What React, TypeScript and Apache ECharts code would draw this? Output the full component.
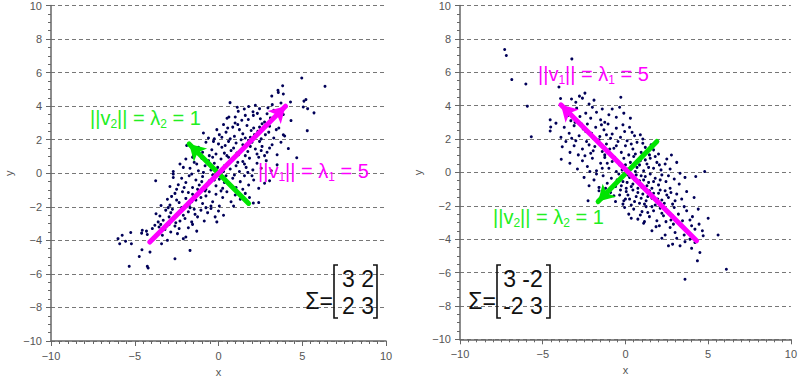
import React, { useEffect, useRef } from 'react';
import * as echarts from 'echarts';

const FONT = '"Liberation Sans", Arial, Helvetica, sans-serif';

// axis settings
const AXIS_MIN = -10;
const AXIS_MAX = 10;
const X_INTERVAL = 5;
const Y_INTERVAL = 2;

// left panel: Sigma = [[3,2],[2,3]]
const LEFT_POINTS: [number, number][] = [
  [4.97,5.68],[6.36,5.18],[3.83,5.22],[3.55,4.95],[3.57,4.82],[3.87,4.72],[3.18,4.6],[5.22,4.39],[5.1,4.3],[0.69,4.21],
  [2.2,4.05],[3.21,4.09],[3.73,4.19],[1.8,3.98],[4.3,4.25],[5.06,3.95],[5.32,3.85],[5.7,3.6],[1.18,3.69],[1.12,3.93],
  [1.54,3.83],[2.06,3.67],[2.08,3.45],[2.32,3.57],[2.9,3.55],[3.3,3.75],[3.87,3.5],[0.51,3.28],[0.99,3.0],[1.39,3.16],
  [1.78,3.2],[2.5,3.25],[2.75,3.05],[4.33,3.14],[3.1,3.3],[0.62,3.35],[1.6,3.45],[2.45,3.85],[1.0,3.35],[2.95,3.9],
  [5.3,2.54],[3.87,2.29],[3.95,2.22],[0.3,2.9],[0.85,2.75],[1.25,2.6],[1.7,2.85],[2.1,2.7],[2.6,2.95],[3.05,2.8],
  [3.45,2.6],[0.05,2.3],[0.45,2.45],[0.95,2.2],[1.45,2.35],[1.9,2.15],[2.35,2.5],[2.8,2.3],[3.3,2.1],[-0.6,2.1],
  [-0.25,2.05],[0.2,2.15],[0.7,2.05],[1.15,2.9],[1.6,2.1],[2.15,2.3],[2.55,2.05],[3.0,2.45],[-0.9,2.4],[1.35,2.0],
  [0.55,2.7],[1.95,2.55],[2.45,2.75],[3.6,2.7],[-0.1,2.6],
  [4.17,1.47],[3.73,1.85],[-1.9,1.65],[-1.2,1.55],[-0.75,1.85],[-0.4,1.4],[0.0,1.75],[0.35,1.2],[0.6,1.9],[0.9,1.5],
  [1.2,1.1],[1.45,1.7],[1.75,1.3],[2.0,1.85],[2.3,1.15],[2.6,1.6],[2.9,1.25],[3.2,1.7],[3.5,1.1],[-1.5,1.05],
  [-0.95,1.25],[-0.55,1.05],[-0.15,1.15],[0.2,1.55],[0.5,1.05],[0.75,1.35],[1.05,1.8],[1.35,1.35],[1.6,1.05],[1.9,1.6],
  [2.2,1.45],[2.45,1.9],[2.75,1.05],[3.05,1.5],[-0.3,1.9],[0.4,1.65],[1.1,1.2],[1.8,1.95],[2.55,1.35],[4.67,0.92],
  [-2.7,0.1],[-2.3,0.55],[-1.95,0.85],[-1.7,0.3],[-1.45,0.65],[-1.2,0.15],[-1.0,0.9],[-0.8,0.45],[-0.6,0.75],[-0.45,0.2],
  [-0.25,0.6],[-0.05,0.35],[0.15,0.85],[0.3,0.1],[0.5,0.55],[0.7,0.25],[0.85,0.8],[1.05,0.45],[1.25,0.1],[1.45,0.7],
  [1.65,0.35],[1.85,0.9],[2.05,0.2],[2.3,0.6],[2.55,0.3],[2.85,0.75],[3.15,0.15],[3.5,0.5],[-2.1,0.35],[-1.55,0.95],
  [-0.9,0.05],[-0.35,0.95],[0.05,0.05],[0.6,0.95],[1.15,0.65],[1.75,0.05],[2.4,0.95],[-1.3,0.55],[0.35,0.45],[1.55,0.55],
  [-3.75,-0.45],[-2.7,-0.05],[-2.7,-0.25],[-2.4,-0.69],[-2.9,-0.79],[-2.2,-0.3],[-1.95,-0.55],[-1.75,-0.15],[-1.55,-0.85],[-1.35,-0.4],
  [-1.15,-0.7],[-0.95,-0.2],[-0.75,-0.95],[-0.55,-0.45],[-0.35,-0.1],[-0.15,-0.75],[0.05,-0.35],[0.25,-0.9],[0.45,-0.15],[0.65,-0.6],
  [0.85,-0.3],[1.05,-0.85],[1.3,-0.5],[1.55,-0.15],[1.8,-0.7],[2.1,-0.4],[2.4,-0.9],[2.75,-0.6],[-2.5,-0.95],[-2.05,-0.85],
  [-1.6,-0.05],[-1.25,-0.95],[-0.65,-0.65],[-0.25,-0.4],[0.35,-0.55],[0.95,-0.1],[1.45,-0.95],[2.0,-0.15],[3.05,-0.45],[-1.0,-0.5],
  [-2.8,-1.38],[-3.43,-1.92],[-3.05,-1.55],[-2.6,-1.2],[-2.35,-1.75],[-2.15,-1.1],[-1.95,-1.5],[-1.75,-1.9],[-1.55,-1.25],[-1.35,-1.6],
  [-1.15,-1.05],[-0.95,-1.8],[-0.75,-1.35],[-0.55,-1.1],[-0.35,-1.7],[-0.15,-1.25],[0.05,-1.95],[0.25,-1.45],[0.5,-1.1],[0.75,-1.7],
  [1.0,-1.3],[1.3,-1.55],[1.6,-1.2],[2.08,-1.78],[2.4,-1.75],[-2.9,-1.9],[-2.5,-1.6],[-1.8,-1.15],[-1.05,-1.45],[-0.45,-1.95],
  [0.15,-1.05],[0.9,-1.95],[1.85,-1.45],[-1.6,-1.7],[-0.8,-1.05],
  [-3.73,-2.41],[-3.5,-2.55],[-3.3,-2.8],[-3.15,-2.2],[-2.95,-2.6],[-2.75,-2.15],[-2.55,-2.95],[-2.4,-2.4],[-2.2,-2.05],[-2.0,-2.7],
  [-1.8,-2.3],[-1.6,-2.9],[-1.45,-2.15],[-1.25,-2.6],[-1.05,-2.2],[-0.85,-2.85],[-0.65,-2.35],[-0.45,-2.1],[-0.2,-2.6],[0.0,-2.25],
  [0.3,-2.5],[-3.6,-2.9],[-2.85,-2.35],[-2.1,-2.5],[-1.4,-2.45],[-0.75,-2.05],[-0.1,-2.9],[-2.3,-2.85],[-1.7,-2.05],[-3.0,-2.05],
  [-4.59,-3.57],[-4.55,-3.4],[-4.3,-3.45],[-4.25,-3.65],[-3.95,-3.3],[-3.8,-3.1],[-3.55,-3.2],[-3.45,-3.05],[-3.2,-3.35],[-3.05,-4.0],
  [-2.85,-3.5],[-2.6,-3.15],[-2.35,-3.3],[-2.1,-3.9],[-1.95,-3.8],[-1.8,-3.25],[-1.55,-3.05],[-1.3,-3.45],[-5.24,-3.53],[-5.75,-3.7],
  [-6.0,-3.9],[-3.9,-3.85],[-3.35,-3.7],[-2.95,-3.05],[-2.45,-3.6],
  [-5.9,-4.2],[-5.55,-4.05],[-5.2,-4.2],[-4.57,-4.56],[-4.73,-4.96],[-4.09,-4.7],[-5.33,-5.55],[-4.25,-5.55],[-4.2,-5.65],[-2.6,-5.1],
  [-1.7,-4.6],[-3.4,-4.2],
];

// right panel: Sigma = [[3,-2],[-2,3]]
const RIGHT_POINTS: [number, number][] = [
  [-7.3,7.36],[-7.2,7.0],[-6.87,5.56],[-6.02,5.3],[-3.24,6.8],[-4.02,5.12],[-5.93,3.97],[-3.92,4.43],[-2.78,4.57],[-3.26,4.4],
  [-1.9,4.33],[-0.28,4.5],[-2.45,4.75],[-2.6,4.45],[-3.0,4.2],[-2.2,4.1],[-1.4,3.8],[-2.95,3.85],[-3.5,3.4],[-3.3,3.1],
  [-2.75,3.35],[-2.4,3.55],[-2.1,3.25],[-1.75,3.6],[-1.5,3.15],[-1.0,3.45],[-0.55,3.3],[-0.35,3.9],[-0.1,3.55],[-3.05,3.0],
  [-1.25,3.0],[-2.0,3.9],[-0.8,3.8],[0.3,3.25],[-4.55,3.15],
  [-5.69,2.14],[-4.52,2.72],[-4.55,2.48],[-4.2,2.95],[-3.7,2.7],[-3.4,2.35],[-3.1,2.8],[-2.8,2.2],[-2.55,2.6],[-2.3,2.9],
  [-2.05,2.35],[-1.8,2.7],[-1.55,2.15],[-1.3,2.55],[-1.05,2.9],[-0.8,2.3],[-0.55,2.65],[-0.3,2.1],[-0.05,2.45],[0.25,2.7],
  [0.55,2.2],[0.9,2.25],[-3.9,2.1],[-3.25,2.05],[-2.65,2.9],[-1.95,2.05],[-1.45,2.85],[-0.9,2.05],[-0.15,2.85],[0.4,2.4],
  [1.05,2.0],[-2.4,2.45],[-1.15,2.25],
  [-3.82,1.54],[-3.6,1.85],[-3.35,1.2],[-3.1,1.6],[-2.85,1.05],[-2.6,1.4],[-2.35,1.85],[-2.1,1.15],[-1.85,1.55],[-1.6,1.95],
  [-1.4,1.25],[-1.15,1.7],[-0.9,1.05],[-0.7,1.45],[-0.45,1.85],[-0.25,1.2],[0.0,1.6],[0.2,1.05],[0.45,1.4],[0.7,1.8],
  [0.95,1.2],[1.2,1.5],[1.45,1.05],[1.7,1.35],[2.0,1.1],[2.78,1.04],[-3.0,1.9],[-2.45,1.0],[-1.95,1.3],[-1.25,1.05],
  [-0.55,1.6],[0.1,1.9],[0.6,1.1],[1.05,1.75],[-2.2,1.65],[-0.95,1.4],[0.35,1.7],[1.55,1.65],
  [-3.88,0.79],[-3.36,0.55],[-2.9,0.2],[-2.6,0.7],[-2.3,0.35],[-2.0,0.85],[-1.75,0.1],[-1.5,0.55],[-1.25,0.9],[-1.0,0.25],
  [-0.8,0.65],[-0.55,0.05],[-0.35,0.45],[-0.1,0.85],[0.1,0.2],[0.3,0.6],[0.5,0.95],[0.7,0.3],[0.9,0.7],[1.1,0.1],
  [1.3,0.5],[1.5,0.85],[1.7,0.25],[1.9,0.6],[2.15,0.15],[2.4,0.5],[2.7,0.2],[3.1,0.6],[4.79,0.05],[-2.15,0.05],
  [-1.4,0.25],[-0.65,0.9],[0.0,0.45],[0.6,0.05],[1.2,0.75],[1.8,0.95],[2.5,0.8],[-0.2,0.15],[0.85,0.45],[1.4,0.3],
  [2.05,0.45],[-1.1,0.55],
  [4.25,-0.25],[-2.5,-0.3],[-2.2,-0.8],[-1.9,-0.45],[-1.6,-0.9],[-1.35,-0.2],[-1.1,-0.65],[-0.85,-0.35],[-0.6,-0.85],[-0.4,-0.1],
  [-0.15,-0.55],[0.05,-0.95],[0.25,-0.3],[0.45,-0.7],[0.65,-0.15],[0.85,-0.5],[1.0,-0.9],[1.2,-0.25],[1.4,-0.6],[1.6,-0.95],
  [1.8,-0.35],[2.0,-0.75],[2.2,-0.15],[2.45,-0.55],[2.7,-0.95],[2.95,-0.4],[3.25,-0.7],[3.6,-0.3],[3.3,-0.05],[-1.75,-0.1],
  [-1.2,-0.95],[-0.5,-0.45],[0.15,-0.15],[0.55,-0.45],[0.95,-0.2],[1.3,-0.8],[1.7,-0.55],[2.1,-0.45],[2.6,-0.2],[-0.25,-0.8],
  [0.35,-0.85],[0.75,-0.95],[1.5,-0.1],[1.1,-0.45],[0.1,-0.6],
  [-2.26,-1.7],[-1.6,-1.1],[-1.2,-1.5],[-0.9,-1.2],[-0.6,-1.75],[-0.35,-1.35],[-0.15,-1.9],[0.05,-1.15],[0.25,-1.6],[0.45,-1.05],
  [0.65,-1.45],[0.85,-1.85],[1.05,-1.3],[1.25,-1.7],[1.45,-1.1],[1.6,-1.55],[1.8,-1.95],[2.0,-1.25],[2.2,-1.65],[2.4,-1.1],
  [2.6,-1.5],[2.85,-1.9],[3.1,-1.3],[3.4,-1.6],[3.7,-1.15],[4.15,-1.5],[0.0,-1.6],[0.35,-1.95],[0.75,-1.2],[1.15,-1.9],
  [1.55,-1.35],[1.95,-1.6],[2.35,-1.85],[2.75,-1.2],[-0.3,-1.05],[-0.7,-1.4],[1.35,-1.45],[2.1,-1.05],[0.55,-1.75],[0.95,-1.55],
  [3.0,-1.7],[0.15,-1.35],[1.7,-1.25],[-0.1,-1.7],[2.5,-1.35],
  [-0.05,-2.1],[0.2,-2.5],[0.5,-2.2],[0.75,-2.8],[1.0,-2.35],[1.25,-2.05],[1.45,-2.65],[1.7,-2.3],[1.9,-2.9],[2.1,-2.15],
  [2.3,-2.6],[2.55,-2.35],[2.75,-2.85],[2.95,-2.1],[3.2,-2.5],[3.45,-2.9],[3.7,-2.3],[4.05,-2.65],[4.4,-2.2],[5.0,-2.75],
  [0.35,-2.75],[1.15,-2.95],[1.6,-2.05],[2.2,-2.45],[2.85,-2.6],[3.55,-2.05],[0.9,-2.55],[2.45,-2.95],[3.9,-2.85],[1.35,-2.4],
  [1.1,-3.05],[1.6,-3.5],[2.05,-3.2],[2.4,-3.75],[2.7,-3.3],[3.0,-3.6],[3.3,-3.15],[3.55,-3.75],[3.8,-3.6],[3.9,-4.0],
  [4.2,-3.4],[4.65,-3.5],[4.7,-3.8],[5.6,-3.75],[2.2,-3.95],[3.1,-3.95],[4.45,-3.1],[1.85,-3.25],[2.9,-3.1],[4.0,-3.2],
  [2.6,-4.4],[3.3,-4.4],[2.85,-4.3],[4.2,-4.2],[4.35,-5.3],[4.5,-4.8],[3.6,-6.4],[6.1,-5.8],[3.6,-4.15],[4.0,-4.55],
];

// eigenvector arrows: [start, tip]
const LEFT_V1: [number, number][] = [[-4.1, -4.1], [4.0, 4.0]];
const LEFT_V2: [number, number][] = [[1.8, -1.8], [-1.75, 1.75]];
const RIGHT_V1: [number, number][] = [[4.3, -4.1], [-3.9, 4.05]];
const RIGHT_V2: [number, number][] = [[1.9, 1.85], [-1.65, -1.75]];

const MAGENTA = '#ff00ff';
const GREEN = '#00e400';
const GREEN_TEXT = '#22ee22';
const DOT = '#000058';
const AXIS_COLOR = '#666';
const LABEL_COLOR = '#555';

const fmt = (v: number) => String(v).replace('-', '\u2212');

function xAxisCfg(gridIndex: number) {
  return {
    type: 'value', gridIndex, min: AXIS_MIN, max: AXIS_MAX, interval: X_INTERVAL,
    name: 'x', nameLocation: 'middle', nameGap: 25,
    nameTextStyle: { color: LABEL_COLOR, fontSize: 11, fontFamily: FONT },
    axisLine: { show: true, onZero: false, lineStyle: { color: AXIS_COLOR, width: 1.5 } },
    axisTick: { show: true, length: 5, lineStyle: { color: AXIS_COLOR } },
    minorTick: { show: true, splitNumber: 10, length: 3, lineStyle: { color: AXIS_COLOR } },
    axisLabel: { color: LABEL_COLOR, fontSize: 11, fontFamily: FONT, margin: 9, formatter: fmt },
    splitLine: { show: false },
  };
}

function yAxisCfg(gridIndex: number) {
  return {
    type: 'value', gridIndex, min: AXIS_MIN, max: AXIS_MAX, interval: Y_INTERVAL,
    name: 'y', nameLocation: 'middle', nameGap: 37,
    nameTextStyle: { color: LABEL_COLOR, fontSize: 11, fontFamily: FONT },
    axisLine: { show: true, onZero: false, lineStyle: { color: AXIS_COLOR, width: 1.5 } },
    axisTick: { show: true, length: 5, lineStyle: { color: AXIS_COLOR } },
    minorTick: { show: true, splitNumber: 4, length: 3, lineStyle: { color: AXIS_COLOR } },
    axisLabel: { color: LABEL_COLOR, fontSize: 11, fontFamily: FONT, margin: 9, formatter: fmt },
    splitLine: { show: true, lineStyle: { color: '#777', width: 1, type: [4, 3] } },
  };
}

function arrowSeries(gridIndex: number, seg: [number, number][], color: string) {
  return {
    type: 'scatter', xAxisIndex: gridIndex, yAxisIndex: gridIndex, data: [], silent: true,
    markLine: {
      silent: true, animation: false,
      symbol: ['none', 'arrow'], symbolSize: [14, 16],
      label: { show: false },
      emphasis: { disabled: true },
      lineStyle: { color, width: 5, type: 'solid', opacity: 1, cap: 'round' },
      data: [[{ coord: seg[0] }, { coord: seg[1] }]],
    },
  };
}

function eigLabel(x: number, y: number, idx: string, val: string, color: string) {
  return {
    type: 'text', x, y, silent: true, z: 10,
    style: {
      text: `{n|||v}{s|${idx}}{n||| = λ}{s|${idx}}{n| = ${val}}`,
      textAlign: 'left', textVerticalAlign: 'middle',
      fill: color,
      rich: {
        n: { fontSize: 20, fontFamily: FONT, fill: color, lineHeight: 24, verticalAlign: 'middle' },
        s: { fontSize: 12, fontFamily: FONT, fill: color, lineHeight: 24, verticalAlign: 'bottom', padding: [0, 0, 0, 0] },
      },
    },
  };
}

function bracket(pts: number[][]) {
  return {
    type: 'polyline', silent: true, z: 10,
    shape: { points: pts },
    style: { stroke: '#111', lineWidth: 1.6, fill: 'none' },
  };
}

function plainText(x: number, y: number, text: string, align: string, size: number) {
  return {
    type: 'text', x, y, silent: true, z: 10,
    style: { text, textAlign: align, textVerticalAlign: 'middle', fill: '#111', fontSize: size, fontFamily: FONT },
  };
}

export default function App() {
  const ref = useRef<HTMLDivElement>(null);
  useEffect(() => {
    if (!ref.current) return;
    const chart = echarts.init(ref.current, null, { renderer: 'svg' });
    const option: any = {
      animation: false,
      backgroundColor: '#ffffff',
      grid: [
        { left: 51, top: 5.5, width: 335, height: 336.5 },
        { left: 460, top: 4, width: 333, height: 335.3 },
      ],
      xAxis: [xAxisCfg(0), xAxisCfg(1)],
      yAxis: [yAxisCfg(0), yAxisCfg(1)],
      series: [
        { type: 'scatter', xAxisIndex: 0, yAxisIndex: 0, data: LEFT_POINTS, symbolSize: 3, itemStyle: { color: DOT, opacity: 1 }, silent: true },
        { type: 'scatter', xAxisIndex: 1, yAxisIndex: 1, data: RIGHT_POINTS, symbolSize: 3, itemStyle: { color: DOT, opacity: 1 }, silent: true },
        arrowSeries(0, LEFT_V2, GREEN),
        arrowSeries(0, LEFT_V1, MAGENTA),
        arrowSeries(1, RIGHT_V2, GREEN),
        arrowSeries(1, RIGHT_V1, MAGENTA),
      ],
      graphic: [
        eigLabel(90, 118, '2', '1', GREEN_TEXT),
        eigLabel(258, 171, '1', '5', MAGENTA),
        eigLabel(538, 74, '1', '5', MAGENTA),
        eigLabel(493, 217, '2', '1', GREEN_TEXT),
        // left matrix
        plainText(333, 301, 'Σ=', 'right', 23),
        plainText(358, 279, '3 2', 'center', 23),
        plainText(358, 306, '2 3', 'center', 23),
        bracket([[338, 265], [334, 265], [334, 318], [338, 318]]),
        bracket([[373, 265], [377, 265], [377, 318], [373, 318]]),
        // right matrix
        plainText(496, 301, 'Σ=', 'right', 23),
        plainText(523, 279, '3 -2', 'center', 23),
        plainText(523, 306, '-2 3', 'center', 23),
        bracket([[501, 265], [497, 265], [497, 318], [501, 318]]),
        bracket([[546, 265], [550, 265], [550, 318], [546, 318]]),
      ],
    };
    chart.setOption(option);
    return () => chart.dispose();
  }, []);
  return <div ref={ref} style={{ position: 'absolute', left: 0, top: 0, width: 800, height: 382 }} />;
}
